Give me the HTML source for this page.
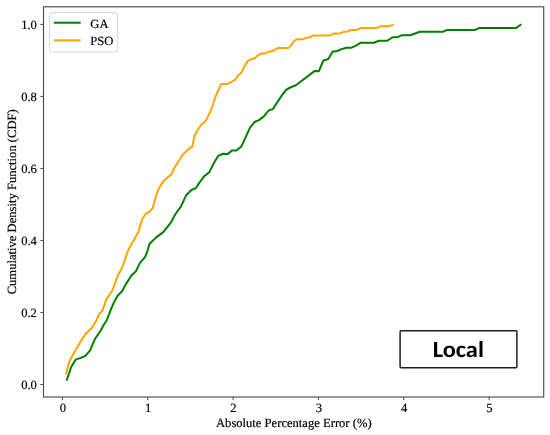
<!DOCTYPE html>
<html><head><meta charset="utf-8"><style>
html,body{margin:0;padding:0;background:#fff;}
body{width:550px;height:435px;overflow:hidden;}
svg{display:block;text-rendering:geometricPrecision;}
.t{font-family:"Liberation Serif","Times New Roman",serif;font-size:12.6px;fill:#000;stroke:#000;stroke-width:0.18px;}
</style></head><body>
<svg width="550" height="435" viewBox="0 0 550 435">
<rect x="0" y="0" width="550" height="435" fill="#fff"/>
<polyline points="66.6,380.6 71.2,367 75.7,359.6 80.1,358.1 85.4,355.8 89.9,350.6 95.1,338.7 100.3,331.2 103.6,325 106.9,320 111,309.1 113.5,303.3 117.6,295.7 121.9,291.4 126.2,283.6 131.4,275.5 135.7,271.6 140,262.9 145.2,256.9 147.8,250 149.4,244 155.9,237.6 163.3,232.1 170.6,222.9 175.5,214 181,206.4 186.2,195.2 191.4,190 195.7,188.3 199.1,183.1 204.3,176.2 209.5,171.9 213.8,163.3 218.1,155.9 223.3,153.8 227.6,154.1 232.2,150.4 236.4,150.6 241.3,146.6 245.2,138.1 249.9,127.9 254.9,121.7 259,120.1 263.8,116.4 268.6,110.7 273.1,108.8 277.5,101.9 282.3,94.7 286.5,89.5 291.3,87 295.9,85.3 301.1,81.2 308,76.1 314.7,70.9 318.9,71.2 321.2,65.7 323.5,60.5 328.2,59.1 332.8,51.6 336.3,51.3 341.5,49.1 346.5,47.8 351,47.8 355.5,45.9 360.5,42.8 373.9,42.8 379,40.8 387.3,40.8 392.4,37.3 397.5,37.2 401.4,35.3 410.3,35.3 419.8,31.8 442.7,31.8 447.2,29.9 474.6,30 479.1,28.1 516,28.1 521.3,24.3" fill="none" stroke="#008000" stroke-width="2" stroke-linejoin="round" stroke-linecap="butt"/>
<polyline points="65.9,374.6 69.4,361.2 74.9,351.3 80.1,342.4 85.4,334.2 92.1,327.5 96.6,320 99,314.4 102.4,310.6 106.4,299.1 112.1,291 117.6,275.9 121.9,268.1 125.3,258.6 128.3,250 131,245 138.4,232.1 142.1,219.2 145.8,213.7 149.4,211.8 152.8,207.8 155.9,196.2 158.7,188.8 163.3,181.4 165.5,179.2 171.4,174.4 174.4,167.6 177.9,162.6 182.5,155 188.9,148.8 192.2,146.8 194.6,135.5 198.1,129.2 201.6,124.2 205.1,121.8 208.3,116 211.9,107.8 216,95.3 221.2,84.1 227.2,84.1 231.6,81.9 235.5,79.5 238.4,75 241.6,72.6 244.5,66 247.9,60.9 251.4,59.1 254.5,58.6 258.3,55.1 261.7,53.4 265.2,53.4 268.8,51.6 271.4,51.6 277.7,48.1 287.9,48.1 291.1,45.8 293.6,41.4 296.8,39.2 303.2,39.2 307,37.6 310.2,37.2 314,35.4 329.9,35.4 333.8,33.6 339.5,33.6 344,31.7 347.2,31.7 351,30 356.7,30 360.5,28.1 376.8,28.1 380.6,26.2 389.4,26.2 393.8,24.3" fill="none" stroke="#ffa500" stroke-width="2" stroke-linejoin="round" stroke-linecap="butt"/>
<rect x="43.5" y="6.8" width="500.2" height="390.2" fill="none" stroke="#4d4d4d" stroke-width="1.15"/>
<g stroke="#4d4d4d" stroke-width="1"><line x1="62.40" y1="397.0" x2="62.40" y2="400.2"/><line x1="147.74" y1="397.0" x2="147.74" y2="400.2"/><line x1="233.08" y1="397.0" x2="233.08" y2="400.2"/><line x1="318.42" y1="397.0" x2="318.42" y2="400.2"/><line x1="403.76" y1="397.0" x2="403.76" y2="400.2"/><line x1="489.10" y1="397.0" x2="489.10" y2="400.2"/><line x1="40.3" y1="384.50" x2="43.5" y2="384.50"/><line x1="40.3" y1="312.48" x2="43.5" y2="312.48"/><line x1="40.3" y1="240.46" x2="43.5" y2="240.46"/><line x1="40.3" y1="168.44" x2="43.5" y2="168.44"/><line x1="40.3" y1="96.42" x2="43.5" y2="96.42"/><line x1="40.3" y1="24.40" x2="43.5" y2="24.40"/></g>
<g class="t"><text x="62.80" y="412.3" text-anchor="middle">0</text><text x="148.14" y="412.3" text-anchor="middle">1</text><text x="233.48" y="412.3" text-anchor="middle">2</text><text x="318.82" y="412.3" text-anchor="middle">3</text><text x="404.16" y="412.3" text-anchor="middle">4</text><text x="489.50" y="412.3" text-anchor="middle">5</text><text x="36.9" y="388.60" text-anchor="end">0.0</text><text x="36.9" y="316.58" text-anchor="end">0.2</text><text x="36.9" y="244.56" text-anchor="end">0.4</text><text x="36.9" y="172.54" text-anchor="end">0.6</text><text x="36.9" y="100.52" text-anchor="end">0.8</text><text x="36.9" y="28.50" text-anchor="end">1.0</text></g>
<text class="t" x="293.8" y="427.4" text-anchor="middle">Absolute Percentage Error (%)</text>
<text class="t" transform="translate(16.0,201.8) rotate(-90)" text-anchor="middle">Cumulative Density Function (CDF)</text>
<rect x="49.5" y="12.6" width="68.2" height="39.4" rx="2.5" ry="2.5" fill="#fff" fill-opacity="0.8" stroke="#d6d6d6" stroke-width="1"/>
<line x1="53.9" y1="22.7" x2="80.7" y2="22.7" stroke="#008000" stroke-width="2"/>
<line x1="53.9" y1="40.3" x2="80.7" y2="40.3" stroke="#ffa500" stroke-width="2"/>
<text class="t" x="90.3" y="27.6">GA</text>
<text class="t" x="90.3" y="44.7">PSO</text>
<rect x="400.1" y="330.7" width="116.8" height="37.0" rx="1" ry="1" fill="#fff" stroke="#1e1e1e" stroke-width="1.5"/>
<text transform="translate(458.3,357) scale(1.062,1)" text-anchor="middle" style="font-family:Carlito,'Liberation Sans',sans-serif;font-weight:bold;font-size:23px;fill:#000">Local</text>
</svg>
</body></html>
